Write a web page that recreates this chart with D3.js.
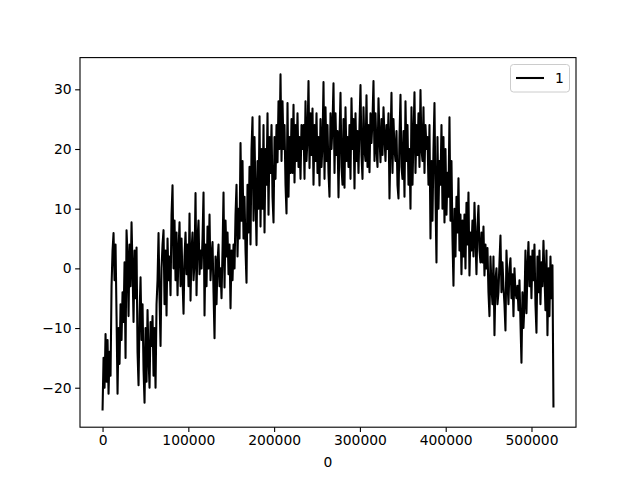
<!DOCTYPE html>
<html>
<head>
<meta charset="utf-8">
<script src="https://cdn.jsdelivr.net/npm/d3@7"></script>
<style>
  body { margin: 0; background: #fff; }
  svg { display: block; }
  text { font-family: "DejaVu Sans", sans-serif; }
</style>
</head>
<body>
<svg id="chart" width="640" height="480"></svg>
<script>
// ---- data ----
const seriesName = "1";
const xLabel = "0";
const xStart = 0;
const xEnd = 525600;
const values = [
  -23.8, -15, -20, -11, -19, -12, -21, -14, -18, -3,
  3, 5.9, -2, 4, -8, -21, -10, -16, -6, -12,
  -4, -9, 1, -15, 6.4, 2, -8, 4, -3, 7.7,
  0, -9, 3, -5, 3.5, -14, -19.6, -8, -1.5, -12,
  -6, -17, -22.5, -10, -19, -7, -15, -20, -9, -13,
  -8, -18, -10, -20, -6, -2, 5.9, -5, -13, 0,
  4, 6.4, -6, 3, -7.9, 5, -2, 2, -4.5, 9,
  13.9, 0, 8, -2, 6, -4.5, 3, 7.7, -3, 5,
  -2, -7.6, 2, 6, -1, 4, -3, 9.2, -5.4, 3,
  6, -2, 1, 12.6, -4.5, 5, 8, -1, 3, 0,
  5, 12.7, -7.9, 4, -3, 7, 0, 9, -2, 2,
  4.4, -4, -11.7, 2, -6, 1, 4, -3, 0, -5,
  3, 12.7, -3.2, 8, 2, 6, -1, 4, -6.7, 3,
  -2, 4, 0, 9, 14, 2, 10, 5, 21, 8,
  18, 5, 12, 3, -2.4, 14, 6, 17, 4, 20,
  25.3, 8, 22, 12, 3.9, 18, 10, 25.5, 7, 20,
  10, 24, 6, 20, 14, 26, 9, 22, 16, 24,
  12, 7.7, 22, 15, 24, 17.8, 28, 20, 32.5, 18,
  28, 20, 24, 14, 9.2, 27.7, 12, 22, 16, 25,
  16, 27.4, 14.4, 24, 18, 26, 17, 22, 15, 24,
  20, 24, 15, 28, 18, 22, 31.4, 16.8, 26, 19,
  26.8, 14, 24, 18, 26, 16, 22, 13.9, 25, 17,
  21, 31.2, 15, 27, 18, 24, 16, 12, 26, 20,
  24, 31, 16, 26, 19, 23, 11.9, 22, 29.4, 17,
  14, 25, 13.5, 27, 18, 22, 17, 24, 15, 28.5,
  20, 25, 13.4, 26, 18, 23, 16, 24, 30.7, 19,
  15, 27, 20, 18, 29, 17, 24, 16.1, 26, 21,
  25, 31.4, 18, 26, 20, 17, 28.5, 22, 17.8, 25,
  19, 27, 22, 18, 24, 20, 26, 11.7, 21, 29.4,
  16, 25, 20, 18, 23, 14, 11.7, 22, 29.1, 17,
  15, 23, 12, 28, 18, 24, 14, 20, 10, 27,
  14, 22, 29.5, 16, 24, 19, 26, 17, 29.9, 20,
  18, 27, 16, 24, 20, 22, 14, 24, 5, 18,
  8, 20, 27.7, 12, 1, 22, 10, 18, 14, 24,
  10, 22, 7.7, 20, 9, 16, 12, 25.3, 8, 18,
  5, -2.9, 10, 2, 12, 6, 15.1, 3, 9, -1,
  8, 2, 9, 0, 11, 4, 12.7, -1.2, 6, 3,
  8, 2, 11, 5, -1, 7, 10.5, 3, 1, 6,
  1, 7, -1.2, 4, 0, 3.4, -4, -8, 2, -3,
  -6, 2, -11.2, -2, 0, -6, -4, 1, 5.5, -4,
  1, -3, -6, -10.4, 3, -2, -6, 0, 1.7, -5,
  -1, -8, 0, -4, -5, -2.9, -7, -2, -9, -15.8,
  -4, -10, -6, 3, -7.5, 0, 4.4, -3, 2, -5,
  3, -2, 4, -6, -10.8, 2, -4, 3, -6, 1,
  -3, 4.6, -1, -7, 3, -11.2, 0, -8, 2, -5,
  0.5, -23.3
];
const xTicks = [0, 100000, 200000, 300000, 400000, 500000];
const yTicks = [-20, -10, 0, 10, 20, 30];

// ---- layout (matplotlib default figure) ----
const W = 640, H = 480;
const mLeft = 80, mRight = 576, mTop = 57.6, mBottom = 427.2;
const fs = 13.89;
const lw = 2.08;

const step = (xEnd - xStart) / (values.length - 1);
const data = values.map((v, i) => ({ x: xStart + i * step, y: v }));

const xExt = d3.extent(data, d => d.x);
const yExt = d3.extent(data, d => d.y);
const xPad = (xExt[1] - xExt[0]) * 0.05;
const yPad = (yExt[1] - yExt[0]) * 0.05;

const x = d3.scaleLinear().domain([xExt[0] - xPad, xExt[1] + xPad]).range([mLeft, mRight]);
const y = d3.scaleLinear().domain([yExt[0] - yPad, yExt[1] + yPad]).range([mBottom, mTop]);

const svg = d3.select("#chart");
svg.append("rect").attr("width", W).attr("height", H).attr("fill", "#fff");

svg.append("clipPath").attr("id", "clip")
  .append("rect").attr("x", mLeft).attr("y", mTop).attr("width", mRight - mLeft).attr("height", mBottom - mTop);

svg.append("path")
  .datum(data)
  .attr("clip-path", "url(#clip)")
  .attr("fill", "none")
  .attr("stroke", "#000")
  .attr("stroke-width", lw)
  .attr("stroke-linejoin", "round")
  .attr("d", d3.line().x(d => x(d.x)).y(d => y(d.y)));

// axes
const xAxis = d3.axisBottom(x).tickValues(xTicks).tickFormat(d3.format("d")).tickSize(4.86).tickPadding(3.5);
const yAxis = d3.axisLeft(y).tickValues(yTicks).tickFormat(d3.format("d")).tickSize(4.86).tickPadding(3.5);

const gx = svg.append("g").attr("transform", `translate(0,${mBottom})`).call(xAxis);
const gy = svg.append("g").attr("transform", `translate(${mLeft},0)`).call(yAxis);
[gx, gy].forEach(g => {
  g.select(".domain").remove();
  g.selectAll(".tick line").attr("stroke", "#000").attr("stroke-width", 1.1);
  g.selectAll(".tick text").attr("fill", "#000").style("font-size", fs + "px").style("font-family", "DejaVu Sans");
});

// spines
svg.append("rect")
  .attr("x", mLeft).attr("y", mTop).attr("width", mRight - mLeft).attr("height", mBottom - mTop)
  .attr("fill", "none").attr("stroke", "#000").attr("stroke-width", 1.1);

// x label
svg.append("text")
  .attr("x", (mLeft + mRight) / 2).attr("y", 467)
  .attr("text-anchor", "middle")
  .style("font-size", fs + "px")
  .text(xLabel);

// legend
const lg = svg.append("g");
lg.append("rect")
  .attr("x", 510.5).attr("y", 64.5).attr("width", 59).attr("height", 27.5)
  .attr("rx", 3).attr("ry", 3)
  .attr("fill", "#fff").attr("fill-opacity", 0.8)
  .attr("stroke", "#cccccc").attr("stroke-width", 1);
lg.append("line")
  .attr("x1", 516).attr("x2", 544).attr("y1", 78).attr("y2", 78)
  .attr("stroke", "#000").attr("stroke-width", lw);
lg.append("text")
  .attr("x", 555).attr("y", 83)
  .style("font-size", fs + "px")
  .text(seriesName);
</script>
</body>
</html>
